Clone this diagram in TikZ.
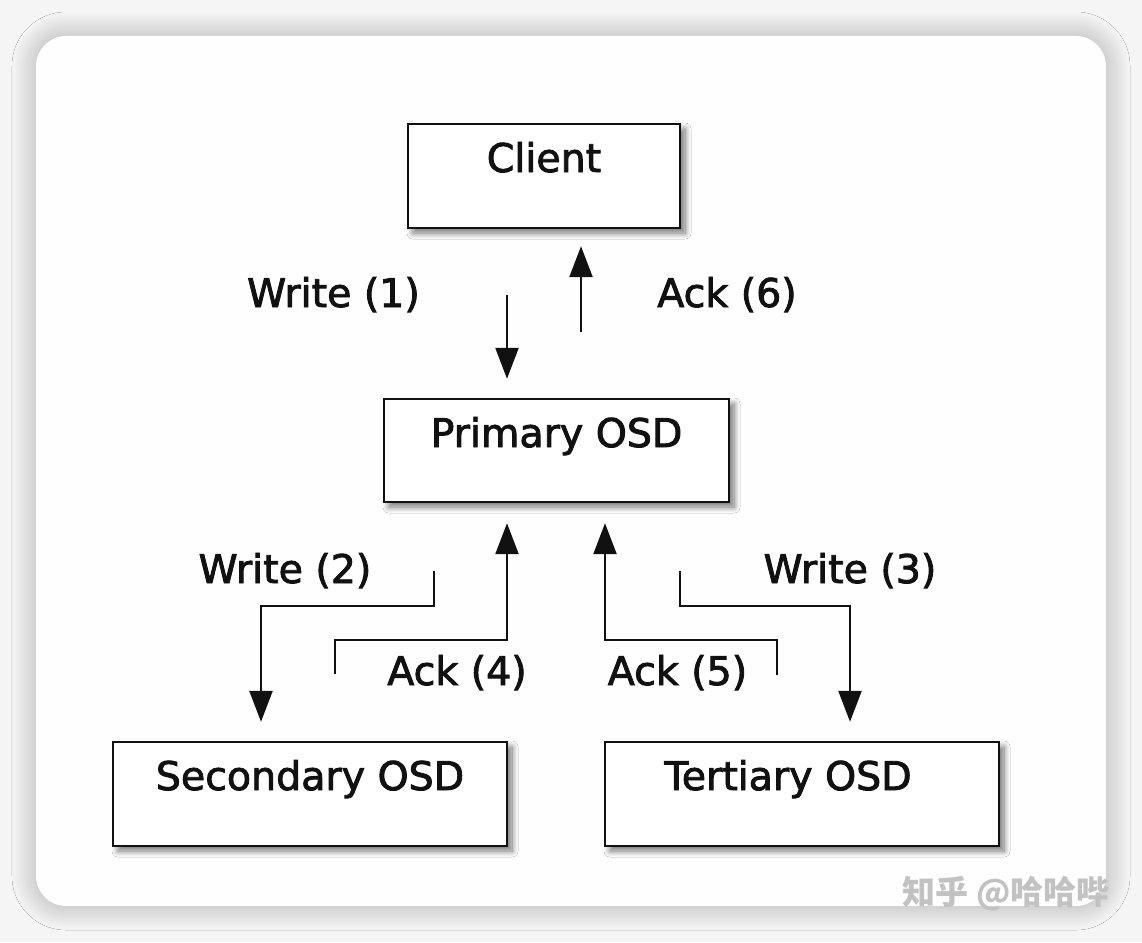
\documentclass[tikz,border=0pt]{standalone}
\usepackage{fontspec}
\setmainfont{DejaVu Sans}[FakeBold=2.2]
\newfontfamily\cjkfont{Noto Sans CJK SC}
\usetikzlibrary{arrows.meta, shadows.blur}
\definecolor{pageBg}{HTML}{F5F5F5}
\definecolor{cardBg}{HTML}{FEFEFE}
\definecolor{lineDark}{HTML}{111111}
\definecolor{markGray}{HTML}{C2C2C2}
\newcommand{\osdFont}{\fontsize{39.5}{47}\selectfont}

\tikzset{
  osdbox/.style={draw=lineDark, line width=2.4pt, fill=white, inner sep=0pt,
    text height=48pt, text depth=56pt, font=\osdFont, text=lineDark,
    blur shadow={shadow xshift=5pt, shadow yshift=-5pt,
      shadow blur radius=6pt, shadow blur steps=12, shadow opacity=55}},
  msg/.style={font=\osdFont, anchor=base, inner sep=0pt, text=lineDark},
  flow/.style={draw=lineDark, line width=2.4pt,
    -{Triangle[length=31pt, width=23pt]}},
}

\begin{document}
\begin{tikzpicture}[x=1pt, y=-1pt]
  % page and card
  \fill[pageBg] (0,0) rectangle (1142,942);
  \useasboundingbox (0,0) rectangle (1142,942);
  \path[fill=cardBg, rounded corners=30pt,
        blur shadow={shadow xshift=0pt, shadow yshift=0pt,
          shadow blur radius=24pt, shadow blur steps=30, shadow opacity=30}]
    (36,36) rectangle (1106,906);

  % boxes
  \node[osdbox, minimum width=272pt] (client) at (544,176) {Client};
  \node[osdbox, minimum width=345pt, text depth=55pt] (primary) at (556.5,450.5) {Primary OSD};
  \node[osdbox, minimum width=394pt] (secondary) at (310,794) {Secondary OSD};
  \node[osdbox, minimum width=394pt] (tertiary) at (802,794) {Tertiary OSD\kern28pt};

  % free ends of the connectors
  \coordinate (w1) at (507,295);
  \coordinate (a6) at (581,332);
  \coordinate (w2) at (434,571);
  \coordinate (a4) at (335,674);
  \coordinate (a5) at (777,675);
  \coordinate (w3) at (680,571);

  \draw[flow, shorten >=19pt] (w1) -- (w1 |- primary.north);
  \draw[flow, shorten >=17pt] (a6) -- (a6 |- client.south);
  \draw[flow, shorten >=19pt] (w2) -- ++(0,35) -| ([xshift=-49pt]secondary.north);
  \draw[flow, shorten >=20pt] (a4) -- ++(0,-34) -| ([xshift=-49.5pt]primary.south);
  \draw[flow, shorten >=20pt] (a5) -- ++(0,-35) -| ([xshift=48.5pt]primary.south);
  \draw[flow, shorten >=19pt] (w3) -- ++(0,35) -| ([xshift=48pt]tertiary.north);

  % labels
  \node[msg] (lw1) at (333.5,307) {Write (1)};
  \node[msg] (la6) at (727,307) {Ack (6)};
  \node[msg] (lw2) at (285,583) {Write (2)};
  \node[msg] (lw3) at (850,583) {Write (3)};
  \node[msg] (la4) at (457,685) {Ack (4)};
  \node[msg] (la5) at (677.5,685) {Ack (5)};

  \node[text=markGray, font=\cjkfont\bfseries\fontsize{33}{33}\selectfont,
        inner sep=0pt] (wm) at (1006,894) {知乎 @哈哈哔};
\end{tikzpicture}
\end{document}
